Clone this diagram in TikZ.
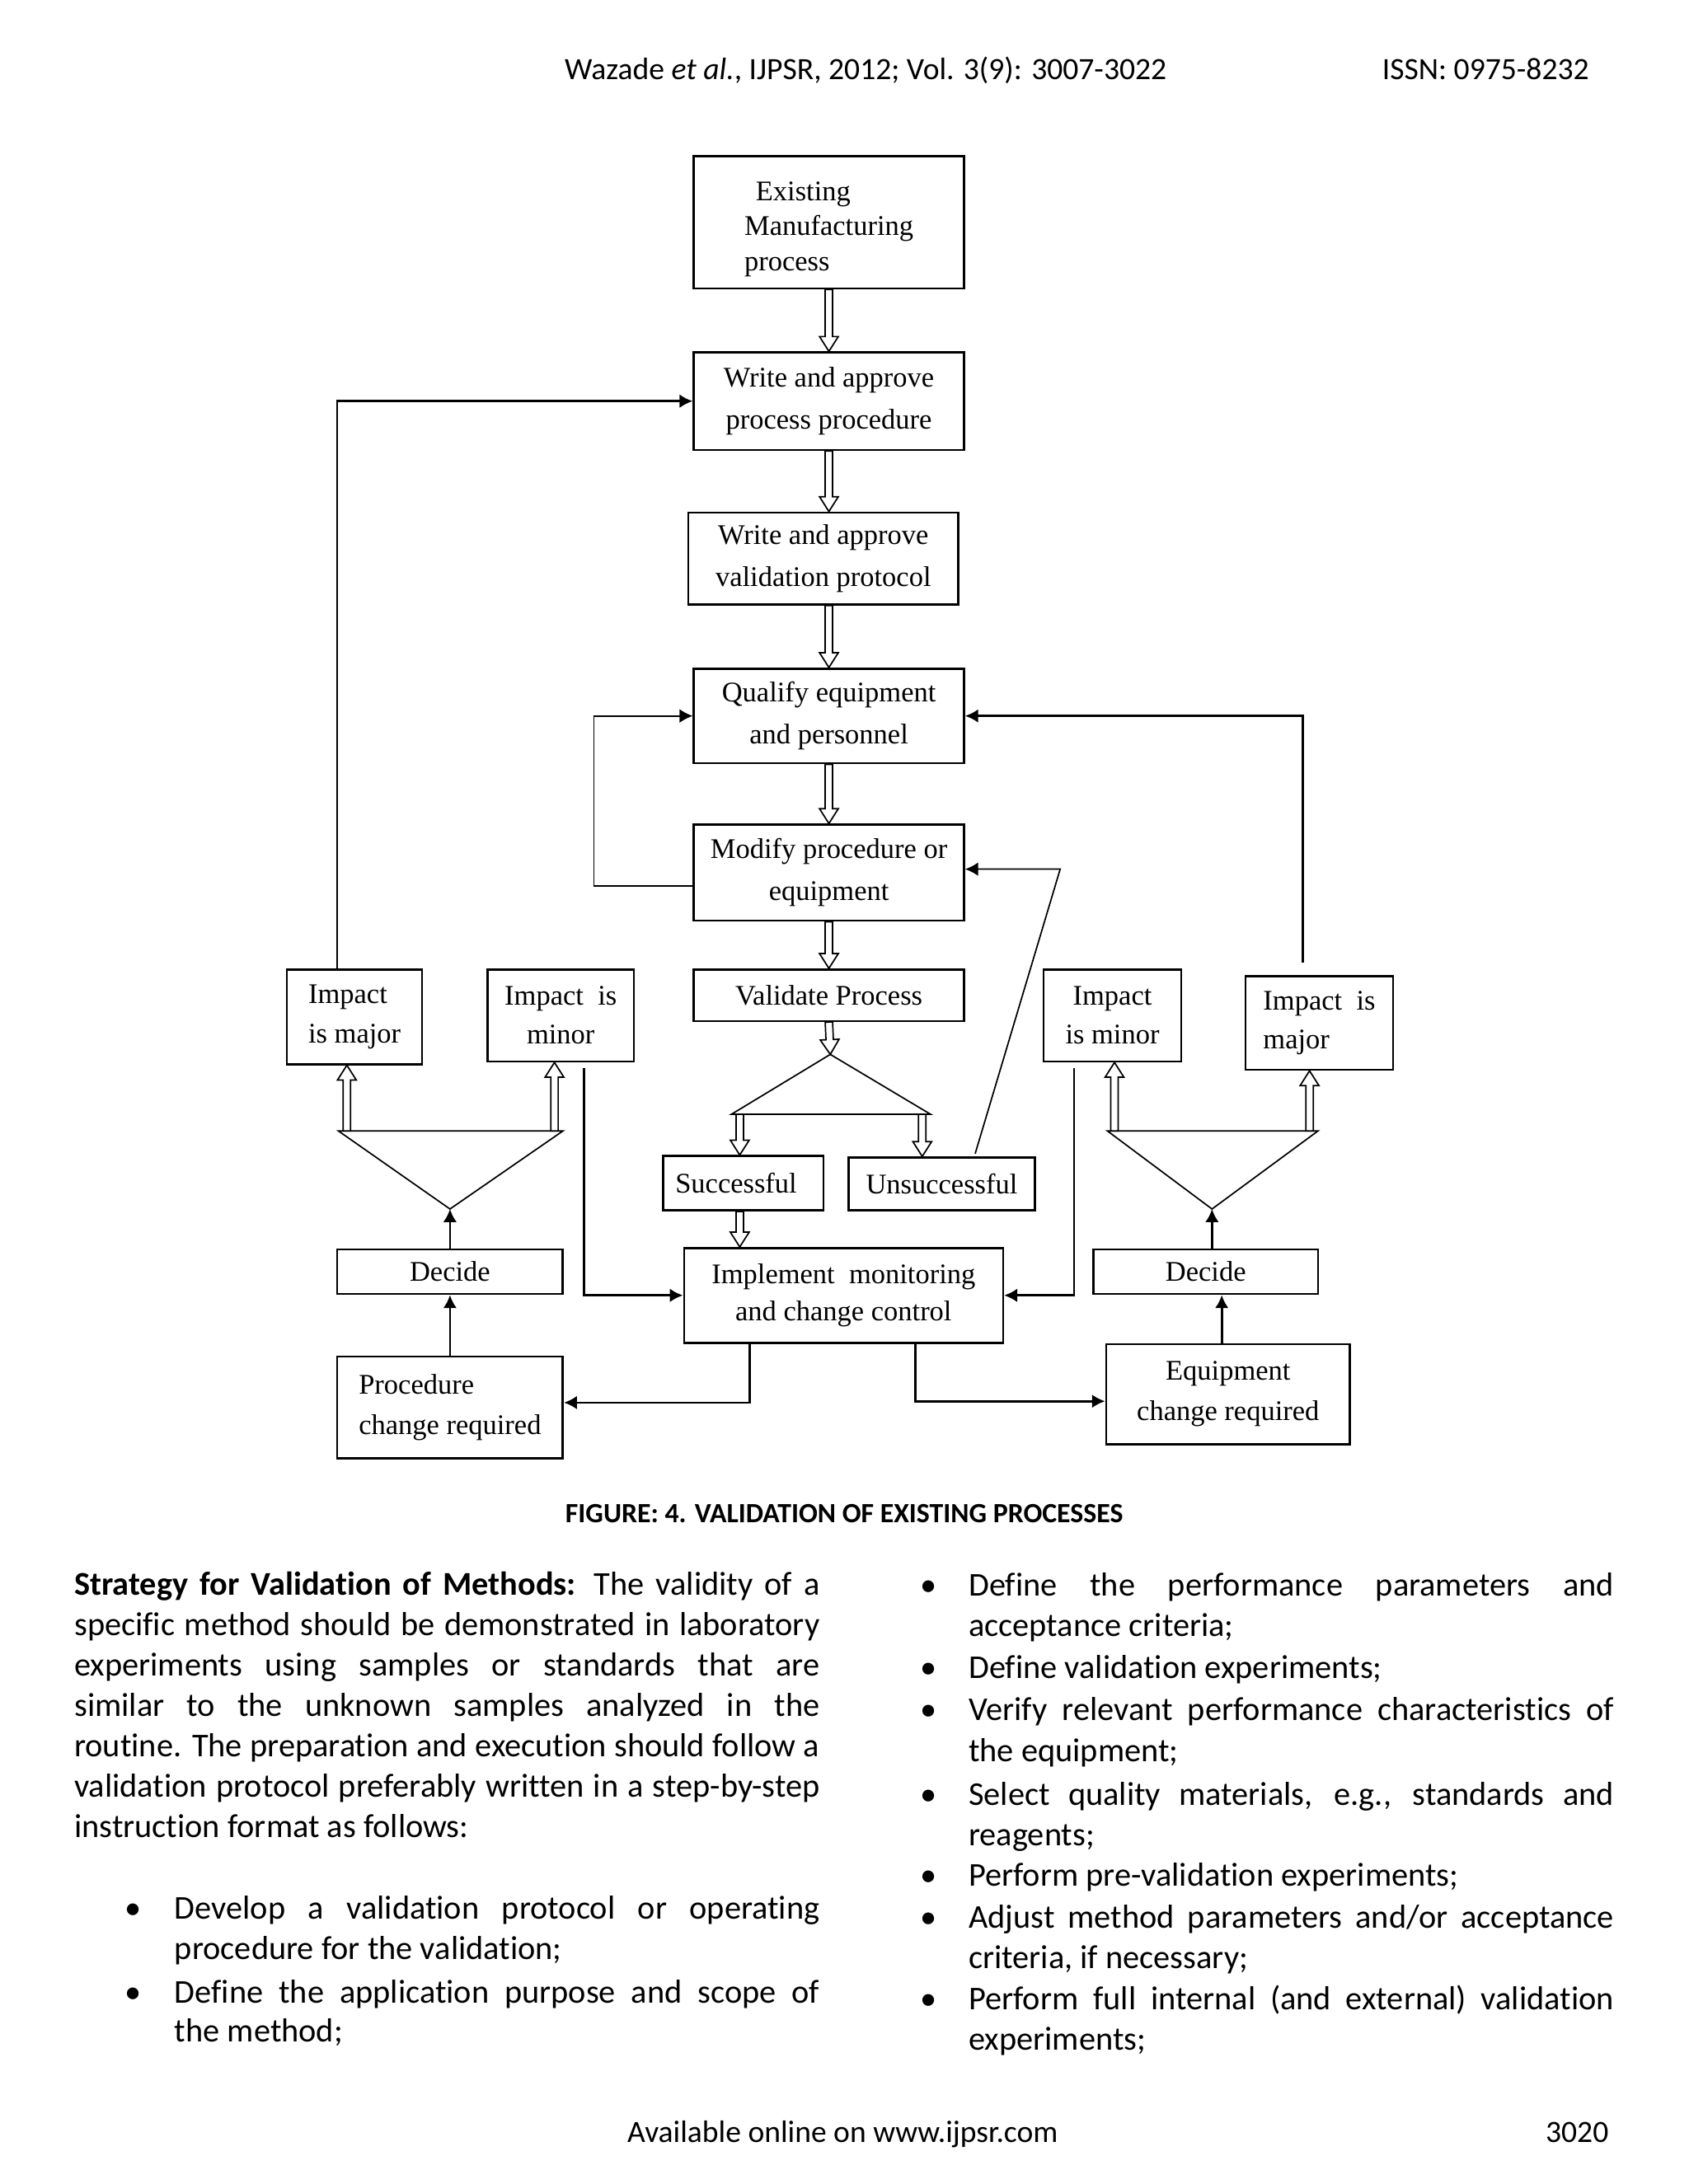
\documentclass[tikz,border=0pt]{standalone}
\usepackage{fontspec}
\setmainfont{Carlito}[Ligatures=NoCommon]
\newfontfamily\tms{Liberation Serif}
\usetikzlibrary{arrows.meta,calc}

\newcommand\harr[2]{%
  \coordinate (hA) at (#1);
  \coordinate (hB) at (#2);
  \coordinate (hH) at ($(hB)!5.2pt!(hA)$);
  \filldraw[hollow] ($(hA)!1.3pt!90:(hB)$) -- ($(hH)!1.3pt!90:(hB)$) -- ($(hH)!3.3pt!90:(hB)$) -- (hB)
     -- ($(hH)!3.3pt!-90:(hB)$) -- ($(hH)!1.3pt!-90:(hB)$) -- ($(hA)!1.3pt!-90:(hB)$) -- cycle;
}
\newcommand\jl[4]{\node[ptext] (#1) at (#2) {\makebox[#3][s]{#4}};}
\newcommand\pl[3]{\node[ptext] (#1) at (#2) {#3};}

\tikzset{
  bx/.style 2 args={draw, line width=0.75pt, minimum width=#1*0.49pt, minimum height=#2*0.49pt,
     inner sep=0pt, align=center},
  tf/.style={font=\tms\fontsize{10}{#1}\selectfont},
  con/.style={line width=0.8pt, -{Latex[length=4.6pt,width=4.8pt]}},
  tcon/.style={line width=0.5pt, -{Latex[length=4.6pt,width=4.8pt]}},
  thinl/.style={line width=0.5pt, line join=miter},
  hollow/.style={line width=0.5pt, fill=white, line join=miter},
  ptext/.style={anchor=base west, inner sep=0pt, font=\fontsize{11.7}{14}\selectfont},
  hdr/.style={inner sep=0pt, font=\fontsize{10.9}{13}\selectfont},
}

\begin{document}
\begin{tikzpicture}[x=0.49pt, y=-0.49pt]
\fill[white] (0,0) rectangle (1212,1568);
\useasboundingbox (0,0) rectangle (1212,1568);

% header / footer
\node[hdr, anchor=base west] (h1) at (405,57) {Wazade \textit{et al.}, IJPSR, 2012; Vol. 3(9): 3007-3022};
\node[hdr, anchor=base east] (h2) at (1141,57) {ISSN: 0975-8232};
\node[hdr, anchor=base west] (f1) at (450,1538) {Available online on www.ijpsr.com};
\node[hdr, anchor=base east] (f2) at (1155,1538) {3020};
\node[hdr, anchor=base, font=\bfseries\fontsize{9.8}{12}\selectfont] (cap) at (606,1093) {FIGURE: 4. VALIDATION OF EXISTING PROCESSES};

% boxes
\node[bx={194}{95}, tf=12.3, align=left] (ex) at (595,159.5) {\rule{0pt}{11.5pt}\hspace*{4pt}Existing\\Manufacturing\\process};
\node[bx={194}{70}, tf=14.7] (wp) at (595,288) {Write and approve\\process procedure};
\node[bx={194}{66}, tf=14.7] (vp) at (591,401) {Write and approve\\validation protocol};
\node[bx={194}{68}, tf=14.7] (qu) at (595,514) {Qualify equipment\\and personnel};
\node[bx={194}{69}, tf=14.7] (mo) at (595,626.5) {Modify procedure or\\equipment};
\node[bx={194}{37}, tf=14.7] (va) at (595,714.5) {Validate Process};
\node[bx={115}{39}, tf=14.7] (su) at (533.5,849.5) {Successful\hspace*{5pt}};
\node[bx={134}{38}, tf=14.7] (un) at (676,850) {Unsuccessful};
\node[bx={229}{68}, tf=13.2] (im) at (605.5,930) {Implement\enspace monitoring\\and change control};
\node[bx={97}{68}, tf=13.7, align=left] (ij1) at (254.5,730) {Impact\\is major};
\node[bx={105}{66}, tf=13.7] (in1) at (402.5,729) {Impact\enspace is\\minor};
\node[bx={162}{32}, tf=14.7] (dl) at (323,913) {Decide};
\node[bx={162}{73}, tf=14.2, align=left] (pc) at (323,1010.5) {Procedure\\change required};
\node[bx={99}{66}, tf=13.7] (in2) at (798.5,729) {Impact\\is minor};
\node[bx={106}{67}, tf=13.7, align=left] (ij2) at (947,734.5) {Impact\enspace is\\major};
\node[bx={161}{32}, tf=14.7] (dr) at (865.5,913) {Decide};
\node[bx={175}{72}, tf=14.2] (eq) at (881.5,1001) {Equipment\\change required};

% triangles
\coordinate (ta) at (596,757);
\coordinate (tl) at (525,800);
\coordinate (tr) at (668,800);
\draw[thinl] (ta) -- (tl) -- (tr) -- cycle;
\coordinate (la) at (323,868);
\coordinate (ll) at (243,812);
\coordinate (lr) at (404,812);
\draw[thinl] (la) -- (ll) -- (lr) -- cycle;
\coordinate (ra) at (870,868);
\coordinate (rl) at (795,812);
\coordinate (rr) at (946,812);
\draw[thinl] (ra) -- (rl) -- (rr) -- cycle;

% hollow arrows
\harr{ex.south}{ex.south |- wp.north}
\harr{wp.south}{wp.south |- vp.north}
\harr{wp.south |- vp.south}{wp.south |- qu.north}
\harr{qu.south}{mo.north}
\harr{mo.south}{va.north}
\harr{va.south}{ta}
\coordinate (sb) at (531,800);
\coordinate (ub) at (662,800);
\harr{sb}{sb |- su.north}
\harr{ub}{ub |- un.north}
\harr{sb |- su.south}{sb |- im.north}
\coordinate (lb1) at (249,812);
\coordinate (lb2) at (398,812);
\harr{lb1}{lb1 |- ij1.south}
\harr{lb2}{lb2 |- in1.south}
\coordinate (rb1) at (800,812);
\coordinate (rb2) at (940,812);
\harr{rb1}{rb1 |- in2.south}
\harr{rb2}{rb2 |- ij2.south}

% filled-arrow connectors
\draw[con] (dl.north) -- (la);
\draw[con] (pc.north) -- (dl.south);
\coordinate (rdc) at (870,897);
\draw[con] (rdc) -- (ra);
\coordinate (req) at (877,965);
\draw[con] (req) -- (req |- dr.south);
\draw[con] ($(ij1.north)+(-12.5,0)$) |- (wp.west);
\draw[tcon] ($(mo.west)+(0,9.5)$) -- ++(-71,0) |- (qu.west);
\draw[con] ($(ij2.north)+(-12,-9)$) |- (qu.east);
\coordinate (ubend) at (761,624);
\draw[tcon] ($(un.north)+(24,-2)$) -- (ubend) -- (ubend -| mo.east);
\draw[con] ($(in1.south)+(16.5,4)$) |- (im.west);
\draw[con] ($(in2.south)+(-27.5,4)$) |- (im.east);
\draw[con] ($(im.south)+(-67.5,0)$) |- ($(pc.east)+(0,-3.5)$);
\draw[con] ($(im.south)+(51.5,0)$) |- ($(eq.west)+(0,5)$);

% body text, left column
\jl{l1}{53,1145}{262.2pt}{\textbf{Strategy for Validation of Methods:} The validity of a}
\jl{l2}{53,1174}{262.2pt}{specific method should be demonstrated in laboratory}
\jl{l3}{53,1203}{262.2pt}{experiments using samples or standards that are}
\jl{l4}{53,1232}{262.2pt}{similar to the unknown samples analyzed in the}
\jl{l5}{53,1261}{262.2pt}{routine. The preparation and execution should follow a}
\jl{l6}{53,1290}{262.2pt}{validation protocol preferably written in a step-by-step}
\pl{l7}{53,1319}{instruction format as follows:}

\pl{b1}{89,1378}{\textbullet}
\jl{l8}{125,1378}{226.9pt}{Develop a validation protocol or operating}
\pl{l9}{125,1407}{procedure for the validation;}
\pl{b2}{89,1438}{\textbullet}
\jl{l10}{125,1438}{226.9pt}{Define the application purpose and scope of}
\pl{l11}{125,1466}{the method;}

% right column
\pl{r1b}{660,1146}{\textbullet}
\jl{r1}{695,1146}{226.9pt}{Define the performance parameters and}
\pl{r2}{695,1175}{acceptance criteria;}
\pl{r3b}{660,1205}{\textbullet}
\pl{r3}{695,1205}{Define validation experiments;}
\pl{r4b}{660,1235}{\textbullet}
\jl{r4}{695,1235}{226.9pt}{Verify relevant performance characteristics of}
\pl{r5}{695,1265}{the equipment;}
\pl{r6b}{660,1296}{\textbullet}
\jl{r6}{695,1296}{226.9pt}{Select quality materials, e.g., standards and}
\pl{r7}{695,1325}{reagents;}
\pl{r8b}{660,1354}{\textbullet}
\pl{r8}{695,1354}{Perform pre-validation experiments;}
\pl{r9b}{660,1384}{\textbullet}
\jl{r9}{695,1384}{226.9pt}{Adjust method parameters and/or acceptance}
\pl{r10}{695,1413}{criteria, if necessary;}
\pl{r11b}{660,1443}{\textbullet}
\jl{r11}{695,1443}{226.9pt}{Perform full internal (and external) validation}
\pl{r12}{695,1472}{experiments;}
\end{tikzpicture}
\end{document}
